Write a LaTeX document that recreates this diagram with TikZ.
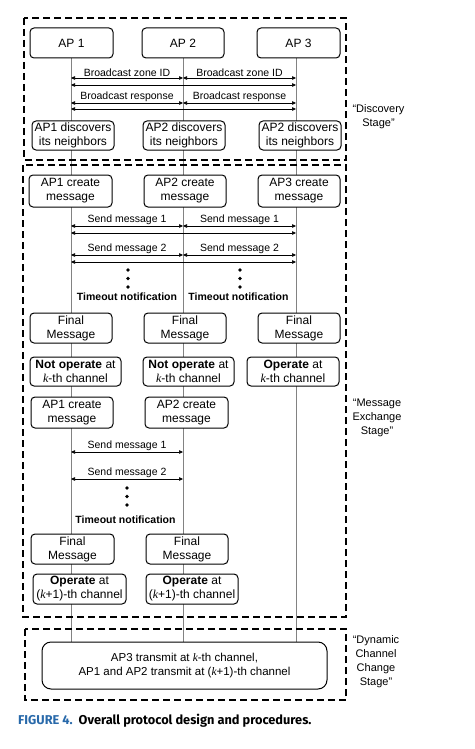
\documentclass[tikz,border=0pt]{standalone}
\usepackage{fontspec}
\setmainfont{Liberation Sans}
\newfontfamily\capfont{Fira Sans}
\newfontfamily\serifk{Liberation Serif}
\usetikzlibrary{arrows.meta,backgrounds}
\newcommand{\kk}{{\serifk\itshape k}}
\definecolor{capblue}{RGB}{40,105,170}
\definecolor{lifegray}{RGB}{130,130,130}
\tikzset{
  box/.style={draw=black, line width=1pt, rounded corners=4pt, fill=white, inner sep=0pt,
    align=center, font=\fontsize{12}{14}\selectfont},
  stagebox/.style={draw=black, line width=1.4pt, dash pattern=on 7pt off 4pt},
  life/.style={draw=lifegray, line width=0.6pt},
  msg/.style={draw=black, line width=0.6pt, {Triangle[length=4pt,width=3.5pt]}-{Triangle[length=4pt,width=3.5pt]}},
  lbl/.style={font=\fontsize{10.5}{12}\selectfont, inner sep=1pt},
  tmo/.style={font=\fontsize{10.5}{12}\selectfont\bfseries, inner sep=0pt},
  stage/.style={align=center, font=\fontsize{11}{14}\selectfont, inner sep=0pt},
  dot/.style={fill=black, circle, inner sep=0pt, minimum size=3.8pt},
}
\begin{document}
\begin{tikzpicture}[x=1pt,y=-1pt]
\useasboundingbox (0,0) rectangle (474,749);
% lifeline x positions
\coordinate (L1) at (71,0);
\coordinate (L2) at (183,0);
\coordinate (L3) at (296,0);
% stage boxes
\draw[stagebox] (24,18) rectangle (346,160);
\draw[stagebox] (23,165) rectangle (346,617);
\draw[stagebox] (25,629) rectangle (346,700);
% discovery stage nodes
\node[box, minimum width=83pt, minimum height=30pt] (ap1) at (71.5,43) {AP 1};
\node[box, minimum width=82pt, minimum height=30pt] (ap2) at (183,43) {AP 2};
\node[box, minimum width=83pt, minimum height=30pt] (ap3) at (298.5,43) {AP 3};
\node[box, minimum width=82pt, minimum height=29pt] (d1) at (73,135.5) {AP1 discovers\\its neighbors};
\node[box, minimum width=82pt, minimum height=29pt] (d2) at (184,135.5) {AP2 discovers\\its neighbors};
\node[box, minimum width=82pt, minimum height=29pt] (d3) at (300,135.5) {AP2 discovers\\its neighbors};
% message exchange stage nodes
\node[box, minimum width=83pt, minimum height=32pt] (c1) at (70.5,191) {AP1 create\\message};
\node[box, minimum width=82pt, minimum height=32pt] (c2) at (185,191) {AP2 create\\message};
\node[box, minimum width=82pt, minimum height=32pt] (c3) at (299,191) {AP3 create\\message};
\node[box, minimum width=82pt, minimum height=30pt] (f1) at (71,328) {Final\\Message};
\node[box, minimum width=82pt, minimum height=30pt] (f2) at (185,328) {Final\\Message};
\node[box, minimum width=82pt, minimum height=30pt] (f3) at (299,328) {Final\\Message};
\node[box, minimum width=91pt, minimum height=29pt] (n1) at (75.5,371.5) {\textbf{Not operate} at\\\kk-th channel};
\node[box, minimum width=91pt, minimum height=29pt] (n2) at (188.5,371.5) {\textbf{Not operate} at\\\kk-th channel};
\node[box, minimum width=92pt, minimum height=29pt] (n3) at (293,371.5) {\textbf{Operate} at\\\kk-th channel};
\node[box, minimum width=82pt, minimum height=31pt] (e1) at (72,412.5) {AP1 create\\message};
\node[box, minimum width=83pt, minimum height=31pt] (e2) at (186.5,412.5) {AP2 create\\message};
\node[box, minimum width=83pt, minimum height=30pt] (g1) at (72.5,549) {Final\\Message};
\node[box, minimum width=82pt, minimum height=30pt] (g2) at (187,549) {Final\\Message};
\node[box, minimum width=93pt, minimum height=30pt] (o1) at (79.5,589) {\textbf{Operate} at\\(\kk+1)-th channel};
\node[box, minimum width=92pt, minimum height=30pt] (o2) at (192,589) {\textbf{Operate} at\\(\kk+1)-th channel};
% dynamic channel change
\node[box, rounded corners=9pt, minimum width=285pt, minimum height=47pt, font=\fontsize{11.5}{13.5}\selectfont] (bot) at (184.5,665.5)
  {AP3 transmit at \kk-th channel,\\AP1 and AP2 transmit at (\kk+1)-th channel};
% lifelines
\begin{scope}[on background layer]
\fill[white] (0,0) rectangle (474,749);
\draw[life] (L1 |- ap1.south) -- (L1 |- bot.north);
\draw[life] (L2 |- ap2.south) -- (L2 |- bot.north);
\draw[life] (L3 |- ap3.south) -- (L3 |- bot.north);
\end{scope}
% message coordinates
\foreach \y/\n in {78/a,85/b,103/r,109/s,226/c,233/d,255/e,262/f,452/g,479/h} {
  \coordinate (\n1) at (L1 |- 0,\y);
  \coordinate (\n2) at (L2 |- 0,\y);
  \coordinate (\n3) at (L3 |- 0,\y);
}
\draw[msg] (a1) -- node[lbl, above] {Broadcast zone ID} (a2);
\draw[msg] (a2) -- node[lbl, above] {Broadcast zone ID} (a3);
\draw[msg] (b1) -- (b3);
\draw[msg] (r1) -- node[lbl, above] {Broadcast response} (r2);
\draw[msg] (r2) -- node[lbl, above] {Broadcast response} (r3);
\draw[msg] (s1) -- (s3);
\draw[msg] (c1) -- node[lbl, above] {Send message 1} (c2);
\draw[msg] (c2) -- node[lbl, above] {Send message 1} (c3);
\draw[msg] (d1) -- (d3);
\draw[msg] (e1) -- node[lbl, above] {Send message 2} (e2);
\draw[msg] (e2) -- node[lbl, above] {Send message 2} (e3);
\draw[msg] (f1) -- (f3);
\draw[msg] (g1) -- node[lbl, above] {Send message 1} (g2);
\draw[msg] (h1) -- node[lbl, above] {Send message 2} (h2);
% dots and timeouts
\foreach \y [count=\i] in {270,278.5,287} {
  \node[dot] (da\i) at (128,\y) {};
  \node[dot] (db\i) at (240,\y) {};
}
\foreach \y [count=\i] in {488,496.5,505} {
  \node[dot] (dc\i) at (127,\y) {};
}
\node[tmo] (t1) at (127,297) {Timeout notification};
\node[tmo] (t2) at (238.5,297) {Timeout notification};
\node[tmo] (t3) at (125.5,520) {Timeout notification};
% stage labels
\node[stage] (s1l) at (378.5,117) {“Discovery\\Stage”};
\node[stage] (s2l) at (377,418) {“Message\\Exchange\\Stage”};
\node[stage] (s3l) at (376,662) {“Dynamic\\Channel\\Change\\Stage”};
% caption
\node[anchor=west, inner sep=0pt, font=\capfont\bfseries\fontsize{12.8}{14}\selectfont] (cap) at (18,721)
  {\textcolor{capblue}{FIGURE 4.}\hspace{6pt}Overall protocol design and procedures.};
\end{tikzpicture}
\end{document}
